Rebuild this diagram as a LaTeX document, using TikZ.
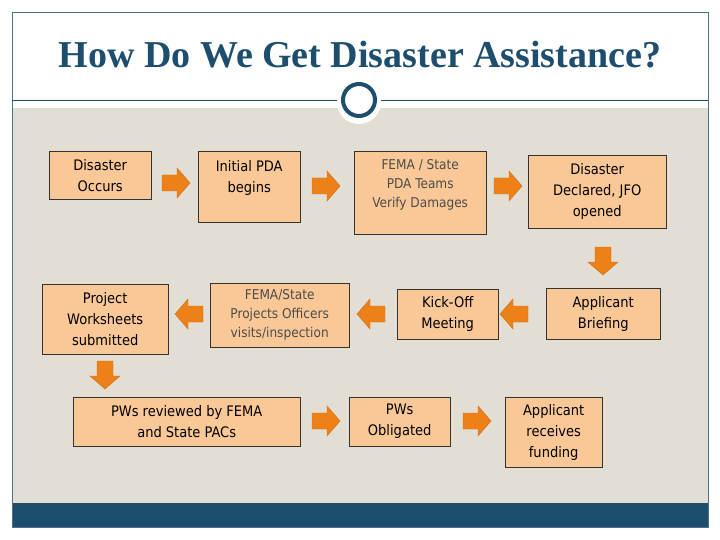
\documentclass[tikz,border=0pt]{standalone}
\usepackage{fontspec}
\setmainfont{DejaVu Sans Condensed}
\newfontfamily\titlefont{Liberation Serif}
\definecolor{navy}{HTML}{1E4E6E}
\definecolor{beige}{HTML}{E3DED3}
\definecolor{peach}{HTML}{FAC896}
\definecolor{arr}{HTML}{EE8018}
\tikzset{
  box/.style={draw=black!80, fill=peach, align=center, font=\fontsize{14.5}{21}\selectfont, inner sep=0pt},
  lite/.style={box, text=black!70, font=\fontsize{13.5}{19}\selectfont},
  blk/.pic={\fill[arr, draw=arr!85!black, line width=0.4pt]
    (-14,-8) -- (1,-8) -- (1,-15) -- (14,0) -- (1,15) -- (1,8) -- (-14,8) -- cycle;}
}
\begin{document}
\begin{tikzpicture}[x=1pt,y=-1pt]
\useasboundingbox (0,0) rectangle (720,540);
\fill[white] (0,0) rectangle (720,540);
\fill[beige] (12,108) rectangle (708,503);
\fill[navy] (12,503) rectangle (708,527);
\draw[navy!80, line width=0.8pt] (12,12) rectangle (708,527);
\draw[navy, line width=0.6pt] (12,100) -- (708,100);
\node[font=\titlefont\bfseries\fontsize{38}{40}\selectfont, text=navy] (title) at (360,55) {How Do We Get Disaster Assistance?};
\fill[white] (359,102) circle (22);
\draw[navy, line width=4pt] (359,100) circle (16);

% boxes
\node[box, minimum width=102pt, minimum height=48pt, anchor=north west] (b1) at (49,151) {Disaster\\Occurs};
\node[box, minimum width=102pt, minimum height=71pt, anchor=north west] (b2) at (198,151) {Initial PDA\\begins\\\mbox{}};
\node[lite, minimum width=132pt, minimum height=83pt, anchor=north west] (b3) at (354,151) {FEMA / State\\PDA Teams\\Verify Damages\\\mbox{}};
\node[box, minimum width=138pt, minimum height=73pt, anchor=north west] (b4) at (528,155) {Disaster\\Declared, JFO\\opened};
\node[box, minimum width=114pt, minimum height=51pt, anchor=north west] (b5) at (546,288) {Applicant\\Briefing};
\node[box, minimum width=101pt, minimum height=50pt, anchor=north west] (b6) at (397,289) {Kick-Off\\Meeting};
\node[lite, minimum width=139pt, minimum height=64pt, anchor=north west] (b7) at (210,283) {FEMA/State\\Projects Officers\\visits/inspection};
\node[box, minimum width=126pt, minimum height=70pt, anchor=north west] (b8) at (42,284) {Project\\Worksheets\\submitted};
\node[box, minimum width=227pt, minimum height=49pt, anchor=north west] (b9) at (73,397) {PWs reviewed by FEMA\\and State PACs};
\node[box, minimum width=101pt, minimum height=49pt, anchor=north west] (b10) at (349,397) {PWs\\Obligated};
\node[box, minimum width=97pt, minimum height=70pt, anchor=north west] (b11) at (505,397) {Applicant\\receives\\funding};

% block arrows
\pic at (176,183) {blk};
\pic at (326,186) {blk};
\pic at (508,186) {blk};
\pic[rotate=-90] at (603,261) {blk};
\pic[rotate=180] at (514,314) {blk};
\pic[rotate=180] at (371,314) {blk};
\pic[rotate=180] at (189,314) {blk};
\pic[rotate=-90] at (105,375) {blk};
\pic at (326,421) {blk};
\pic at (477,421) {blk};
\end{tikzpicture}
\end{document}
